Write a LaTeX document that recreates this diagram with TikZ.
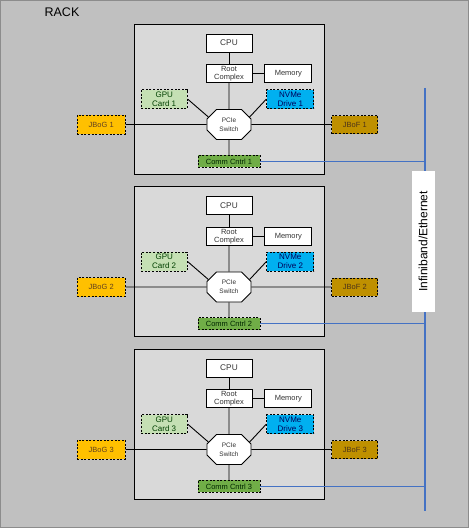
\documentclass[tikz,border=0pt]{standalone}
\usepackage{fontspec}
\setmainfont{Liberation Sans}
\usetikzlibrary{positioning,shapes.misc}

\definecolor{rackgray}{HTML}{C0C0C0}
\definecolor{srvgray}{HTML}{D9D9D9}
\definecolor{gpugreen}{HTML}{C5E0B4}
\definecolor{commgreen}{HTML}{70AD47}
\definecolor{nvmeblue}{HTML}{00B0F0}
\definecolor{jbogyellow}{HTML}{FFC000}
\definecolor{jbofgold}{HTML}{BF9000}
\definecolor{busblue}{HTML}{4472C4}

\begin{document}
\begin{tikzpicture}[x=1pt,y=1pt,
    part/.style={draw, line width=0.8pt, fill=white, inner sep=1pt, align=center,
      text=black!80, font=\fontsize{7.5}{8}\selectfont},
    dashpart/.style={part, dash pattern=on 2pt off 1.6pt},
    srvbox/.style={draw, line width=0.9pt, fill=srvgray, minimum width=190pt, minimum height=150pt},
    swbox/.style={part, chamfered rectangle, chamfered rectangle xsep=5pt,
      chamfered rectangle ysep=4.5pt, minimum width=44pt, minimum height=30pt,
      font=\fontsize{6.5}{9}\selectfont},
    link/.style={line width=0.9pt},
    busline/.style={draw=busblue, line width=0.8pt}]

  \fill[rackgray] (0,0) rectangle (469,528);
  \draw[black!45, line width=0.8pt] (0.4,0.4) rectangle (468.6,527.6);
  \useasboundingbox (0,0) rectangle (469,528);
  \node[font=\fontsize{12.5}{14}\selectfont] (rack) at (62,516) {RACK};

  \coordinate (bustop) at (425,440);
  \coordinate (busbot) at (425,17);

  % one server per shelf
  \foreach \i in {1,2,3} {
    \pgfmathsetmacro\yy{429-(\i-1)*162.5}
    \node[srvbox] (srv\i) at (229,\yy) {};
    \node[part, minimum width=46pt, minimum height=18pt, font=\fontsize{8.3}{9}\selectfont,
      below=10pt of srv\i.north] (cpu\i) {CPU};
    \node[part, minimum width=46pt, minimum height=18pt, below=12pt of cpu\i] (root\i) {Root\\Complex};
    \node[part, minimum width=47pt, minimum height=18pt, right=12pt of root\i] (mem\i) {Memory};
    \node[dashpart, fill=gpugreen, text=green!25!black, minimum width=46pt, minimum height=19pt,
      font=\fontsize{8}{9}\selectfont, below left=6pt and 18pt of root\i] (gpu\i) {GPU\\Card \i};
    \node[dashpart, fill=nvmeblue, text=blue!35!black, minimum width=47pt, minimum height=19pt,
      font=\fontsize{8}{9}\selectfont, below right=6pt and 14pt of root\i] (nvme\i) {NVMe\\Drive \i};
    \node[swbox, below=26pt of root\i] (sw\i) {PCIe\\Switch};
    \node[dashpart, fill=commgreen, text=green!15!black, minimum width=62pt, minimum height=12pt,
      below=15pt of sw\i] (comm\i) {Comm Cntrl \i};
    \node[dashpart, fill=jbogyellow, text=brown!50!black, minimum width=48pt, minimum height=19pt,
      left=81pt of sw\i] (jbog\i) {JBoG \i};
    \node[dashpart, fill=jbofgold, text=brown!40!black, minimum width=46pt, minimum height=18pt,
      right=80pt of sw\i] (jbof\i) {JBoF \i};

    \draw[link] (cpu\i) -- (root\i);
    \draw[link] (root\i) -- (mem\i);
    \draw[link] (root\i) -- (sw\i);
    \draw[link] (gpu\i.east) -- (sw\i.160);
    \draw[link] (nvme\i.west) -- (sw\i.20);
    \draw[link] (sw\i) -- (comm\i);
    \draw[link] (jbog\i) -- (sw\i);
    \draw[link] (sw\i) -- (jbof\i);
    \draw[busline] (comm\i.east) -- (comm\i.east -| bustop);
  }

  \draw[busline, line width=1.6pt] (bustop) -- (busbot);
  \node[fill=white, rotate=90, minimum width=141pt, minimum height=23pt, inner sep=0pt,
    font=\fontsize{12}{14}\selectfont] (net) at (423,286.5) {Infiniband/Ethernet};
\end{tikzpicture}
\end{document}
